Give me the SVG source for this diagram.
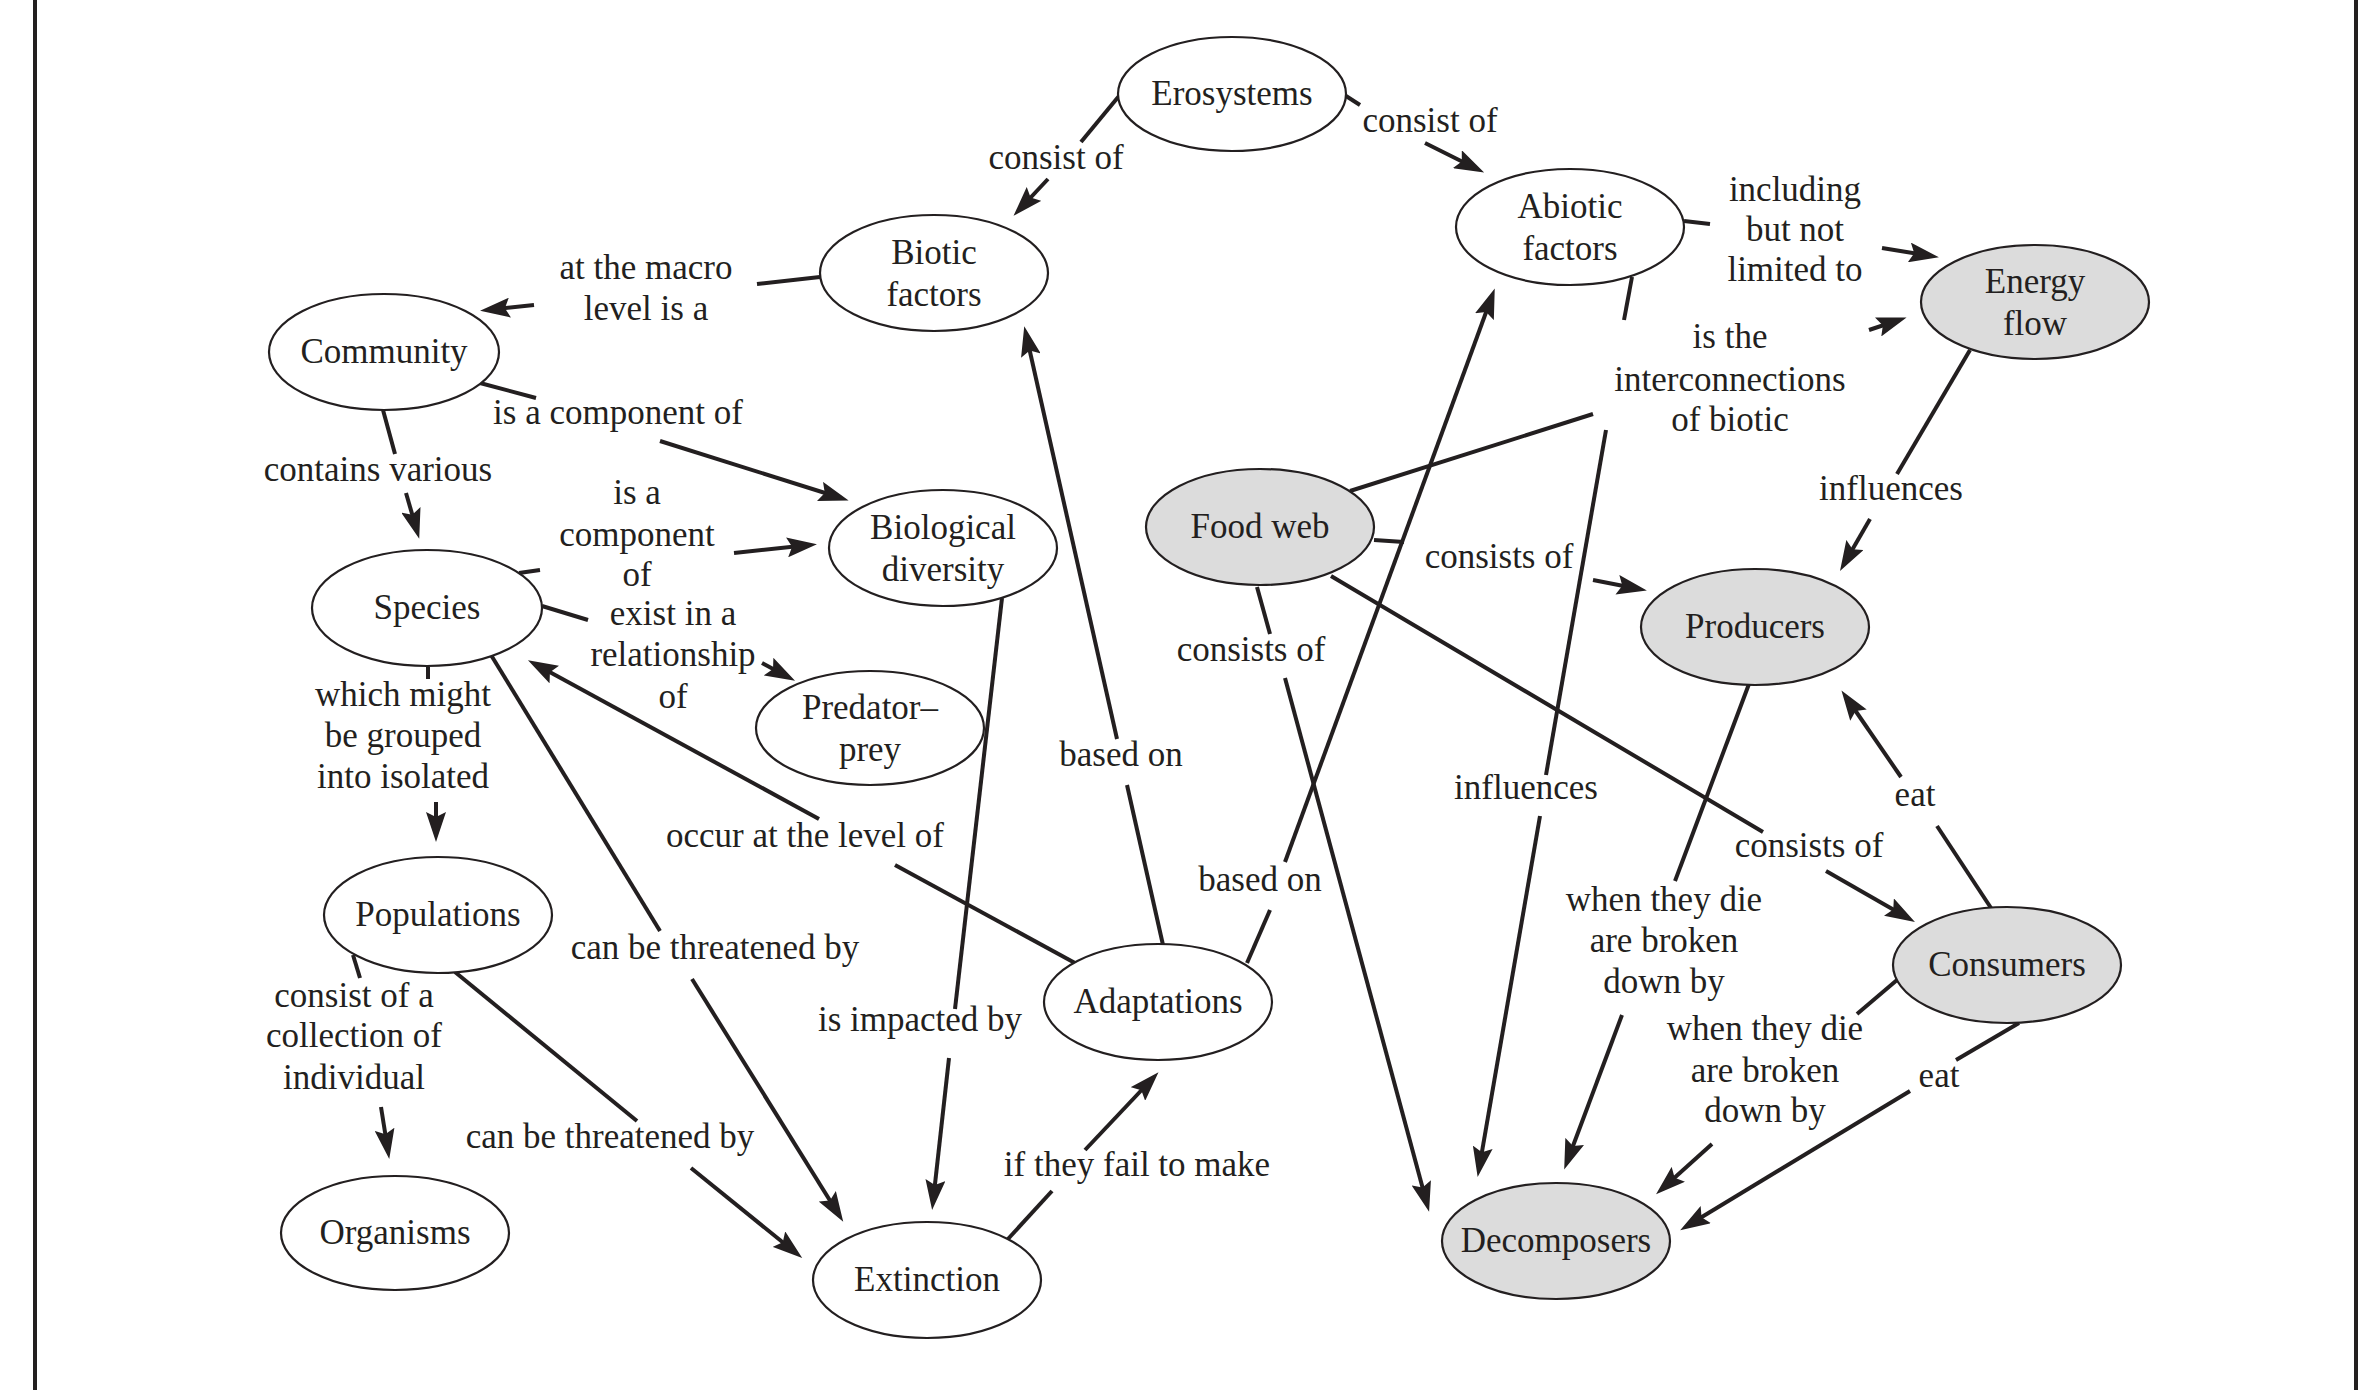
<svg xmlns="http://www.w3.org/2000/svg" width="2374" height="1390" viewBox="0 0 2374 1390">
<style>
.n{fill:#ffffff;stroke:#231f20;stroke-width:2.2}
.g{fill:#dcdcdc;stroke:#231f20;stroke-width:2.2}
.t{font-family:"Liberation Serif","Times New Roman",serif;font-size:35px;fill:#231f20;text-anchor:middle}
.c line{stroke:#231f20;stroke-width:4;fill:none}
.c line.a{marker-end:url(#ah)}
</style>
<defs>
<marker id="ah" viewBox="0 0 30 20" markerWidth="30" markerHeight="20" refX="22" refY="10" orient="auto" markerUnits="userSpaceOnUse"><path d="M0,0 L30,10 L0,20 L5,10 z" fill="#231f20"/></marker>
</defs>
<rect x="0" y="0" width="2374" height="1390" fill="#ffffff"/>
<line x1="35" y1="0" x2="35" y2="1390" stroke="#231f20" stroke-width="4"/>
<line x1="2356" y1="0" x2="2356" y2="1390" stroke="#231f20" stroke-width="4"/>

<g id="connectors" class="c">
<line x1="1119" y1="96" x2="1081" y2="142"/><line class="a" x1="1048" y1="179" x2="1019" y2="210"/>
<line x1="820" y1="277" x2="757" y2="284"/><line class="a" x1="534" y1="305" x2="488" y2="310"/>
<line x1="480" y1="383" x2="536" y2="398"/><line class="a" x1="660" y1="441" x2="841" y2="498"/>
<line x1="383" y1="410" x2="395" y2="454"/><line class="a" x1="406" y1="493" x2="417" y2="531"/>
<line x1="519" y1="573" x2="540" y2="570"/><line class="a" x1="734" y1="553" x2="809" y2="545"/>
<line x1="542" y1="606" x2="588" y2="620"/><line class="a" x1="762" y1="663" x2="788" y2="677"/>
<line x1="428" y1="667" x2="428" y2="679"/><line class="a" x1="436" y1="802" x2="436" y2="834"/>
<line x1="353" y1="955" x2="360" y2="978"/><line class="a" x1="381" y1="1107" x2="388" y2="1151"/>
<line x1="455" y1="972" x2="637" y2="1121"/><line class="a" x1="691" y1="1168" x2="796" y2="1253"/>
<line x1="491" y1="655" x2="660" y2="931"/><line class="a" x1="692" y1="979" x2="839" y2="1215"/>
<line x1="1075" y1="963" x2="895" y2="865"/><line class="a" x1="819" y1="819" x2="535" y2="664"/>
<line x1="1002" y1="598" x2="955" y2="1009"/><line class="a" x1="949" y1="1058" x2="933" y2="1202"/>
<line x1="1163" y1="945" x2="1127" y2="785"/><line class="a" x1="1117" y1="739" x2="1026" y2="334"/>
<line x1="1008" y1="1239" x2="1052" y2="1191"/><line class="a" x1="1085" y1="1150" x2="1153" y2="1078"/>
<line x1="1346" y1="96" x2="1360" y2="105"/><line class="a" x1="1425" y1="143" x2="1477" y2="169"/>
<line x1="1684" y1="221" x2="1710" y2="224"/><line class="a" x1="1882" y1="248" x2="1931" y2="256"/>
<line x1="1350" y1="491" x2="1593" y2="414"/><line class="a" x1="1869" y1="330" x2="1899" y2="320"/>
<line x1="1632" y1="277" x2="1624" y2="320"/><line x1="1606" y1="430" x2="1546" y2="775"/><line class="a" x1="1540" y1="816" x2="1479" y2="1169"/>
<line x1="1374" y1="540" x2="1404" y2="542"/><line class="a" x1="1593" y1="580" x2="1639" y2="589"/>
<line x1="1257" y1="587" x2="1270" y2="634"/><line class="a" x1="1285" y1="678" x2="1427" y2="1204"/>
<line x1="1247" y1="963" x2="1270" y2="910"/><line class="a" x1="1285" y1="862" x2="1492" y2="296"/>
<line x1="1331" y1="576" x2="1763" y2="832"/><line class="a" x1="1826" y1="871" x2="1908" y2="918"/>
<line x1="1970" y1="350" x2="1897" y2="474"/><line class="a" x1="1870" y1="519" x2="1844" y2="564"/>
<line x1="1749" y1="684" x2="1675" y2="881"/><line class="a" x1="1622" y1="1015" x2="1567" y2="1162"/>
<line x1="1991" y1="908" x2="1937" y2="826"/><line class="a" x1="1901" y1="777" x2="1846" y2="697"/>
<line x1="1897" y1="980" x2="1857" y2="1014"/><line class="a" x1="1712" y1="1144" x2="1662" y2="1189"/>
<line x1="2019" y1="1023" x2="1956" y2="1060"/><line class="a" x1="1910" y1="1091" x2="1687" y2="1226"/>
</g>

<g id="labels" class="t">
<text x="1056" y="169">consist of</text>
<text x="646" y="279">at the macro</text><text x="646" y="320">level is a</text>
<text x="618" y="424">is a component of</text>
<text x="378" y="481">contains various</text>
<text x="637" y="504">is a</text><text x="637" y="546">component</text><text x="637" y="586">of</text>
<text x="673" y="625">exist in a</text><text x="673" y="666">relationship</text><text x="673" y="708">of</text>
<text x="403" y="706">which might</text><text x="403" y="747">be grouped</text><text x="403" y="788">into isolated</text>
<text x="354" y="1007">consist of a</text><text x="354" y="1047">collection of</text><text x="354" y="1089">individual</text>
<text x="610" y="1148">can be threatened by</text>
<text x="715" y="959">can be threatened by</text>
<text x="805" y="847">occur at the level of</text>
<text x="920" y="1031">is impacted by</text>
<text x="1121" y="766">based on</text>
<text x="1137" y="1176">if they fail to make</text>
<text x="1430" y="132">consist of</text>
<text x="1795" y="201">including</text><text x="1795" y="241">but not</text><text x="1795" y="281">limited to</text>
<text x="1730" y="348">is the</text><text x="1730" y="391">interconnections</text><text x="1730" y="431">of biotic</text>
<text x="1526" y="799">influences</text>
<text x="1499" y="568">consists of</text>
<text x="1251" y="661">consists of</text>
<text x="1260" y="891">based on</text>
<text x="1809" y="857">consists of</text>
<text x="1891" y="500">influences</text>
<text x="1664" y="911">when they die</text><text x="1664" y="952">are broken</text><text x="1664" y="993">down by</text>
<text x="1915" y="806">eat</text>
<text x="1765" y="1040">when they die</text><text x="1765" y="1082">are broken</text><text x="1765" y="1122">down by</text>
<text x="1939" y="1087">eat</text>
</g>

<g id="erosystems"><ellipse class="n" cx="1232" cy="94" rx="114" ry="57"/><text class="t" x="1232" y="105">Erosystems</text></g>
<g id="biotic"><ellipse class="n" cx="934" cy="273" rx="114" ry="58"/><text class="t" x="934" y="264">Biotic</text><text class="t" x="934" y="306">factors</text></g>
<g id="abiotic"><ellipse class="n" cx="1570" cy="227" rx="114" ry="58"/><text class="t" x="1570" y="218">Abiotic</text><text class="t" x="1570" y="260">factors</text></g>
<g id="energy"><ellipse class="g" cx="2035" cy="302" rx="114" ry="57"/><text class="t" x="2035" y="293">Energy</text><text class="t" x="2035" y="335">flow</text></g>
<g id="community"><ellipse class="n" cx="384" cy="352" rx="115" ry="58"/><text class="t" x="384" y="363">Community</text></g>
<g id="biodiversity"><ellipse class="n" cx="943" cy="548" rx="114" ry="58"/><text class="t" x="943" y="539">Biological</text><text class="t" x="943" y="581">diversity</text></g>
<g id="foodweb"><ellipse class="g" cx="1260" cy="527" rx="114" ry="58"/><text class="t" x="1260" y="538">Food web</text></g>
<g id="species"><ellipse class="n" cx="427" cy="608" rx="115" ry="58"/><text class="t" x="427" y="619">Species</text></g>
<g id="producers"><ellipse class="g" cx="1755" cy="627" rx="114" ry="58"/><text class="t" x="1755" y="638">Producers</text></g>
<g id="predatorprey"><ellipse class="n" cx="870" cy="728" rx="114" ry="57"/><text class="t" x="870" y="719">Predator–</text><text class="t" x="870" y="761">prey</text></g>
<g id="populations"><ellipse class="n" cx="438" cy="915" rx="114" ry="58"/><text class="t" x="438" y="926">Populations</text></g>
<g id="adaptations"><ellipse class="n" cx="1158" cy="1002" rx="114" ry="58"/><text class="t" x="1158" y="1013">Adaptations</text></g>
<g id="consumers"><ellipse class="g" cx="2007" cy="965" rx="114" ry="58"/><text class="t" x="2007" y="976">Consumers</text></g>
<g id="organisms"><ellipse class="n" cx="395" cy="1233" rx="114" ry="57"/><text class="t" x="395" y="1244">Organisms</text></g>
<g id="extinction"><ellipse class="n" cx="927" cy="1280" rx="114" ry="58"/><text class="t" x="927" y="1291">Extinction</text></g>
<g id="decomposers"><ellipse class="g" cx="1556" cy="1241" rx="114" ry="58"/><text class="t" x="1556" y="1252">Decomposers</text></g>
</svg>
